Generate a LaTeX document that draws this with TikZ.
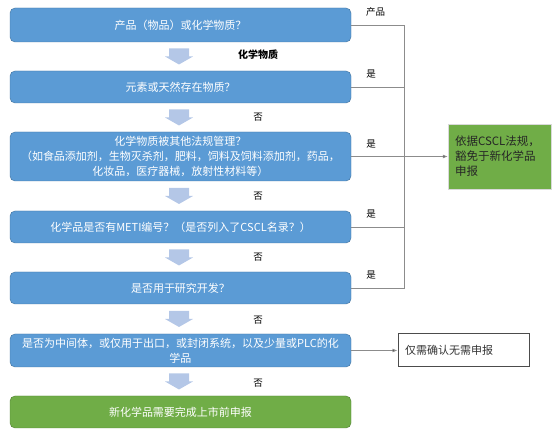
\documentclass[tikz,border=0pt]{standalone}
\usepackage{fontspec}
\setmainfont{Noto Sans CJK SC}
\usetikzlibrary{calc,arrows.meta}
\definecolor{boxblue}{HTML}{5B9BD5}
\definecolor{edgeblue}{HTML}{41719C}
\definecolor{boxgreen}{HTML}{70AD47}
\definecolor{edgegreen}{HTML}{507E32}
\definecolor{arrblue}{HTML}{B4C7E7}

\begin{document}
\begin{tikzpicture}[x=1pt,y=-1pt,
    qbox/.style={draw=edgeblue,fill=boxblue,rounded corners=5pt,text=white,align=center,
      minimum width=341pt,inner sep=0pt,font=\fontsize{11}{15}\selectfont},
    endbox/.style={qbox,draw=edgegreen,fill=boxgreen},
    exempt/.style={draw=black!15,fill=boxgreen,text=black!85,align=left,text width=89pt,
      minimum width=103pt,minimum height=65pt,inner sep=0pt,font=\fontsize{11.5}{15}\selectfont},
    onlybox/.style={draw=black!70,line width=1pt,fill=white,text=black!80,align=left,text width=117pt,
      minimum width=131pt,minimum height=33pt,inner sep=0pt,font=\fontsize{11}{15}\selectfont},
    lbl/.style={font=\fontsize{9.5}{11}\selectfont},
    conn/.style={draw=black!45,line width=0.8pt},
    blockarr/.style={fill=arrblue}]
    \useasboundingbox (0,0) rectangle (558,435);

    % question boxes
    \node[qbox,minimum height=34pt] (b1) at (180.5,25) {产品（物品）或化学物质？};
    \node[qbox,minimum height=32pt] (b2) at (180.5,87) {元素或天然存在物质？};
    \node[qbox,minimum height=49pt] (b3) at (180.5,156.5) {化学物质被其他法规管理？\\（如食品添加剂，生物灭杀剂，肥料，饲料及饲料添加剂，药品，\\化妆品，医疗器械，放射性材料等）};
    \node[qbox,minimum height=32pt] (b4) at (180.5,227) {化学品是否有METI编号？（是否列入了CSCL名录？）};
    \node[qbox,minimum height=32pt] (b5) at (180.5,288) {是否用于研究开发？};
    \node[qbox,minimum height=33pt] (b6) at (180.5,350.5) {是否为中间体，或仅用于出口，或封闭系统，以及少量或PLC的化\\学品};
    \node[endbox,minimum height=32pt] (b7) at (180.5,412) {新化学品需要完成上市前申报};

    % results on the right
    \node[exempt] (gb) at (499.5,156.5) {依据CSCL法规，\\豁免于新化学品\\申报};
    \node[onlybox] (wb) at (463.5,350.5) {仅需确认无需申报};

    % block arrows between the boxes
    \foreach \a/\b in {b1/b2,b2/b3,b3/b4,b4/b5,b5/b6,b6/b7}
      \fill[blockarr,shift={($(\a.south)!0.5!(\b.north)+(-1.5,0)$)}]
        (-10,-8) -- (10,-8) -- (10,0) -- (14,0) -- (0,8) -- (-14,0) -- (-10,0) -- cycle;

    % labels
    \node[lbl,font=\fontsize{10}{11}\selectfont\bfseries] (l1) at (258,55) {化学物质};
    \node[lbl] (n2) at (258,117) {否};
    \node[lbl] (n3) at (258,196) {否};
    \node[lbl] (n4) at (258,257) {否};
    \node[lbl] (n5) at (258,320) {否};
    \node[lbl] (n6) at (258,383) {否};
    \node[lbl] (y1) at (375.5,12) {产品};
    \node[lbl] (y2) at (371,74) {是};
    \node[lbl] (y3) at (371,144) {是};
    \node[lbl] (y4) at (371,214) {是};
    \node[lbl] (y5) at (371,275) {是};

    % connectors
    \coordinate (bustop) at (404,25);
    \coordinate (busbot) at (404,288);
    \draw[conn] (b1.east) -- (bustop) -- (busbot) -- (b5.east);
    \draw[conn] (b2.east) -- (b2.east -| bustop);
    \draw[conn] (b4.east) -- (b4.east -| bustop);
    \draw[conn,-{Latex[length=5pt,width=4pt,fill=black]}] (b3.east) -- (gb.west);
    \draw[conn,-{Latex[length=5pt,width=4pt,fill=black]}] (b6.east) -- (wb.west);
\end{tikzpicture}
\end{document}
